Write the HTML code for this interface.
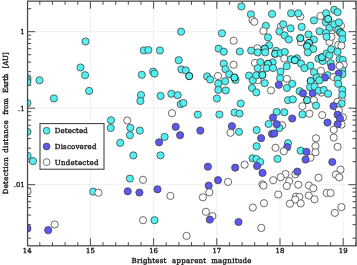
<!DOCTYPE html>
<html><head><meta charset="utf-8"><title>Detection distance vs brightest apparent magnitude</title>
<style>
html,body{margin:0;padding:0;background:#fff}
svg text{font-family:"DejaVu Serif","Liberation Serif",serif;fill:#222;stroke:#222;stroke-width:0.38px}
.t{font-size:7.0px}
.n{font-size:6.9px}
</style></head><body>
<svg width="357" height="265" viewBox="0 0 357 265" style="display:block">
<rect width="357" height="265" fill="#fff"/>
<g stroke="#ededed" stroke-width="0.9" fill="none"><line x1="90.4" y1="1.15" x2="90.4" y2="245.8"/><line x1="153.6" y1="1.15" x2="153.6" y2="245.8"/><line x1="216.8" y1="1.15" x2="216.8" y2="245.8"/><line x1="280.0" y1="1.15" x2="280.0" y2="245.8"/><line x1="343.2" y1="1.15" x2="343.2" y2="245.8"/><line x1="27.55" y1="31.7" x2="356.1" y2="31.7"/><line x1="27.55" y1="108.2" x2="356.1" y2="108.2"/><line x1="27.55" y1="184.7" x2="356.1" y2="184.7"/></g>
<g stroke="#484848" stroke-width="1" fill="none"><line x1="39.8" y1="245.8" x2="39.8" y2="242.20000000000002"/><line x1="39.8" y1="1.15" x2="39.8" y2="4.75"/><line x1="52.5" y1="245.8" x2="52.5" y2="242.20000000000002"/><line x1="52.5" y1="1.15" x2="52.5" y2="4.75"/><line x1="65.1" y1="245.8" x2="65.1" y2="242.20000000000002"/><line x1="65.1" y1="1.15" x2="65.1" y2="4.75"/><line x1="77.8" y1="245.8" x2="77.8" y2="242.20000000000002"/><line x1="77.8" y1="1.15" x2="77.8" y2="4.75"/><line x1="90.4" y1="245.8" x2="90.4" y2="238.20000000000002"/><line x1="90.4" y1="1.15" x2="90.4" y2="8.75"/><line x1="103.0" y1="245.8" x2="103.0" y2="242.20000000000002"/><line x1="103.0" y1="1.15" x2="103.0" y2="4.75"/><line x1="115.7" y1="245.8" x2="115.7" y2="242.20000000000002"/><line x1="115.7" y1="1.15" x2="115.7" y2="4.75"/><line x1="128.3" y1="245.8" x2="128.3" y2="242.20000000000002"/><line x1="128.3" y1="1.15" x2="128.3" y2="4.75"/><line x1="141.0" y1="245.8" x2="141.0" y2="242.20000000000002"/><line x1="141.0" y1="1.15" x2="141.0" y2="4.75"/><line x1="153.6" y1="245.8" x2="153.6" y2="238.20000000000002"/><line x1="153.6" y1="1.15" x2="153.6" y2="8.75"/><line x1="166.2" y1="245.8" x2="166.2" y2="242.20000000000002"/><line x1="166.2" y1="1.15" x2="166.2" y2="4.75"/><line x1="178.9" y1="245.8" x2="178.9" y2="242.20000000000002"/><line x1="178.9" y1="1.15" x2="178.9" y2="4.75"/><line x1="191.5" y1="245.8" x2="191.5" y2="242.20000000000002"/><line x1="191.5" y1="1.15" x2="191.5" y2="4.75"/><line x1="204.2" y1="245.8" x2="204.2" y2="242.20000000000002"/><line x1="204.2" y1="1.15" x2="204.2" y2="4.75"/><line x1="216.8" y1="245.8" x2="216.8" y2="238.20000000000002"/><line x1="216.8" y1="1.15" x2="216.8" y2="8.75"/><line x1="229.4" y1="245.8" x2="229.4" y2="242.20000000000002"/><line x1="229.4" y1="1.15" x2="229.4" y2="4.75"/><line x1="242.1" y1="245.8" x2="242.1" y2="242.20000000000002"/><line x1="242.1" y1="1.15" x2="242.1" y2="4.75"/><line x1="254.7" y1="245.8" x2="254.7" y2="242.20000000000002"/><line x1="254.7" y1="1.15" x2="254.7" y2="4.75"/><line x1="267.4" y1="245.8" x2="267.4" y2="242.20000000000002"/><line x1="267.4" y1="1.15" x2="267.4" y2="4.75"/><line x1="280.0" y1="245.8" x2="280.0" y2="238.20000000000002"/><line x1="280.0" y1="1.15" x2="280.0" y2="8.75"/><line x1="292.6" y1="245.8" x2="292.6" y2="242.20000000000002"/><line x1="292.6" y1="1.15" x2="292.6" y2="4.75"/><line x1="305.3" y1="245.8" x2="305.3" y2="242.20000000000002"/><line x1="305.3" y1="1.15" x2="305.3" y2="4.75"/><line x1="317.9" y1="245.8" x2="317.9" y2="242.20000000000002"/><line x1="317.9" y1="1.15" x2="317.9" y2="4.75"/><line x1="330.6" y1="245.8" x2="330.6" y2="242.20000000000002"/><line x1="330.6" y1="1.15" x2="330.6" y2="4.75"/><line x1="343.2" y1="245.8" x2="343.2" y2="238.20000000000002"/><line x1="343.2" y1="1.15" x2="343.2" y2="8.75"/><line x1="355.8" y1="245.8" x2="355.8" y2="242.20000000000002"/><line x1="355.8" y1="1.15" x2="355.8" y2="4.75"/><line x1="27.55" y1="238.2" x2="31.150000000000002" y2="238.2"/><line x1="356.1" y1="238.2" x2="352.5" y2="238.2"/><line x1="27.55" y1="224.7" x2="31.150000000000002" y2="224.7"/><line x1="356.1" y1="224.7" x2="352.5" y2="224.7"/><line x1="27.55" y1="215.1" x2="31.150000000000002" y2="215.1"/><line x1="356.1" y1="215.1" x2="352.5" y2="215.1"/><line x1="27.55" y1="207.7" x2="31.150000000000002" y2="207.7"/><line x1="356.1" y1="207.7" x2="352.5" y2="207.7"/><line x1="27.55" y1="201.7" x2="31.150000000000002" y2="201.7"/><line x1="356.1" y1="201.7" x2="352.5" y2="201.7"/><line x1="27.55" y1="196.5" x2="31.150000000000002" y2="196.5"/><line x1="356.1" y1="196.5" x2="352.5" y2="196.5"/><line x1="27.55" y1="192.1" x2="31.150000000000002" y2="192.1"/><line x1="356.1" y1="192.1" x2="352.5" y2="192.1"/><line x1="27.55" y1="188.2" x2="31.150000000000002" y2="188.2"/><line x1="356.1" y1="188.2" x2="352.5" y2="188.2"/><line x1="27.55" y1="184.7" x2="35.15" y2="184.7"/><line x1="356.1" y1="184.7" x2="348.5" y2="184.7"/><line x1="27.55" y1="161.7" x2="31.150000000000002" y2="161.7"/><line x1="356.1" y1="161.7" x2="352.5" y2="161.7"/><line x1="27.55" y1="148.2" x2="31.150000000000002" y2="148.2"/><line x1="356.1" y1="148.2" x2="352.5" y2="148.2"/><line x1="27.55" y1="138.6" x2="31.150000000000002" y2="138.6"/><line x1="356.1" y1="138.6" x2="352.5" y2="138.6"/><line x1="27.55" y1="131.2" x2="31.150000000000002" y2="131.2"/><line x1="356.1" y1="131.2" x2="352.5" y2="131.2"/><line x1="27.55" y1="125.2" x2="31.150000000000002" y2="125.2"/><line x1="356.1" y1="125.2" x2="352.5" y2="125.2"/><line x1="27.55" y1="120.0" x2="31.150000000000002" y2="120.0"/><line x1="356.1" y1="120.0" x2="352.5" y2="120.0"/><line x1="27.55" y1="115.6" x2="31.150000000000002" y2="115.6"/><line x1="356.1" y1="115.6" x2="352.5" y2="115.6"/><line x1="27.55" y1="111.7" x2="31.150000000000002" y2="111.7"/><line x1="356.1" y1="111.7" x2="352.5" y2="111.7"/><line x1="27.55" y1="108.2" x2="35.15" y2="108.2"/><line x1="356.1" y1="108.2" x2="348.5" y2="108.2"/><line x1="27.55" y1="85.2" x2="31.150000000000002" y2="85.2"/><line x1="356.1" y1="85.2" x2="352.5" y2="85.2"/><line x1="27.55" y1="71.7" x2="31.150000000000002" y2="71.7"/><line x1="356.1" y1="71.7" x2="352.5" y2="71.7"/><line x1="27.55" y1="62.1" x2="31.150000000000002" y2="62.1"/><line x1="356.1" y1="62.1" x2="352.5" y2="62.1"/><line x1="27.55" y1="54.7" x2="31.150000000000002" y2="54.7"/><line x1="356.1" y1="54.7" x2="352.5" y2="54.7"/><line x1="27.55" y1="48.7" x2="31.150000000000002" y2="48.7"/><line x1="356.1" y1="48.7" x2="352.5" y2="48.7"/><line x1="27.55" y1="43.5" x2="31.150000000000002" y2="43.5"/><line x1="356.1" y1="43.5" x2="352.5" y2="43.5"/><line x1="27.55" y1="39.1" x2="31.150000000000002" y2="39.1"/><line x1="356.1" y1="39.1" x2="352.5" y2="39.1"/><line x1="27.55" y1="35.2" x2="31.150000000000002" y2="35.2"/><line x1="356.1" y1="35.2" x2="352.5" y2="35.2"/><line x1="27.55" y1="31.7" x2="35.15" y2="31.7"/><line x1="356.1" y1="31.7" x2="348.5" y2="31.7"/><line x1="27.55" y1="8.7" x2="31.150000000000002" y2="8.7"/><line x1="356.1" y1="8.7" x2="352.5" y2="8.7"/></g>
<defs><clipPath id="cp"><rect x="27.55" y="1.15" width="328.55" height="244.65"/></clipPath></defs>
<g clip-path="url(#cp)"><circle cx="280.8" cy="26.5" r="3.6" fill="#ffffff" stroke="#414141" stroke-width="0.78"/><circle cx="300.3" cy="16.6" r="3.6" fill="#ffffff" stroke="#414141" stroke-width="0.78"/><circle cx="341.0" cy="25.8" r="3.6" fill="#ffffff" stroke="#414141" stroke-width="0.78"/><circle cx="330.8" cy="32.6" r="3.6" fill="#ffffff" stroke="#414141" stroke-width="0.78"/><circle cx="257.4" cy="48.3" r="3.6" fill="#ffffff" stroke="#414141" stroke-width="0.78"/><circle cx="255.0" cy="63.0" r="3.6" fill="#ffffff" stroke="#414141" stroke-width="0.78"/><circle cx="257.7" cy="80.2" r="3.6" fill="#ffffff" stroke="#414141" stroke-width="0.78"/><circle cx="282.2" cy="125.3" r="3.6" fill="#ffffff" stroke="#414141" stroke-width="0.78"/><circle cx="301.0" cy="42.2" r="3.6" fill="#ffffff" stroke="#414141" stroke-width="0.78"/><circle cx="329.5" cy="41.9" r="3.6" fill="#ffffff" stroke="#414141" stroke-width="0.78"/><circle cx="331.4" cy="36.8" r="3.6" fill="#ffffff" stroke="#414141" stroke-width="0.78"/><circle cx="321.4" cy="92.6" r="3.6" fill="#ffffff" stroke="#414141" stroke-width="0.78"/><circle cx="341.6" cy="99.4" r="3.6" fill="#ffffff" stroke="#414141" stroke-width="0.78"/><circle cx="337.6" cy="101.8" r="3.6" fill="#ffffff" stroke="#414141" stroke-width="0.78"/><circle cx="343.0" cy="117.4" r="3.6" fill="#ffffff" stroke="#414141" stroke-width="0.78"/><circle cx="341.6" cy="124.6" r="3.6" fill="#ffffff" stroke="#414141" stroke-width="0.78"/><circle cx="295.3" cy="174.3" r="3.6" fill="#ffffff" stroke="#414141" stroke-width="0.78"/><circle cx="85.5" cy="41.5" r="3.6" fill="#52f0f0" stroke="#414141" stroke-width="0.78"/><circle cx="143.8" cy="50.4" r="3.6" fill="#52f0f0" stroke="#414141" stroke-width="0.78"/><circle cx="148.4" cy="50.0" r="3.6" fill="#52f0f0" stroke="#414141" stroke-width="0.78"/><circle cx="159.9" cy="50.4" r="3.6" fill="#52f0f0" stroke="#414141" stroke-width="0.78"/><circle cx="181.1" cy="31.7" r="3.6" fill="#52f0f0" stroke="#414141" stroke-width="0.78"/><circle cx="221.9" cy="33.3" r="3.6" fill="#52f0f0" stroke="#414141" stroke-width="0.78"/><circle cx="233.6" cy="40.7" r="3.6" fill="#ffffff" stroke="#414141" stroke-width="0.78"/><circle cx="218.6" cy="48.6" r="3.6" fill="#52f0f0" stroke="#414141" stroke-width="0.78"/><circle cx="223.8" cy="51.7" r="3.6" fill="#52f0f0" stroke="#414141" stroke-width="0.78"/><circle cx="239.8" cy="51.5" r="3.6" fill="#52f0f0" stroke="#414141" stroke-width="0.78"/><circle cx="241.4" cy="6.5" r="3.6" fill="#52f0f0" stroke="#414141" stroke-width="0.78"/><circle cx="250.9" cy="14.3" r="3.6" fill="#52f0f0" stroke="#414141" stroke-width="0.78"/><circle cx="252.5" cy="20.1" r="3.6" fill="#ffffff" stroke="#414141" stroke-width="0.78"/><circle cx="254.3" cy="21.8" r="3.6" fill="#ffffff" stroke="#414141" stroke-width="0.78"/><circle cx="272.0" cy="13.9" r="3.6" fill="#52f0f0" stroke="#414141" stroke-width="0.78"/><circle cx="265.8" cy="25.8" r="3.6" fill="#52f0f0" stroke="#414141" stroke-width="0.78"/><circle cx="263.4" cy="31.0" r="3.6" fill="#ffffff" stroke="#414141" stroke-width="0.78"/><circle cx="283.2" cy="24.2" r="3.6" fill="#52f0f0" stroke="#414141" stroke-width="0.78"/><circle cx="279.4" cy="31.5" r="3.6" fill="#52f0f0" stroke="#414141" stroke-width="0.78"/><circle cx="284.6" cy="35.4" r="3.6" fill="#52f0f0" stroke="#414141" stroke-width="0.78"/><circle cx="268.0" cy="37.4" r="3.6" fill="#52f0f0" stroke="#414141" stroke-width="0.78"/><circle cx="291.1" cy="13.3" r="3.6" fill="#52f0f0" stroke="#414141" stroke-width="0.78"/><circle cx="298.3" cy="13.3" r="3.6" fill="#52f0f0" stroke="#414141" stroke-width="0.78"/><circle cx="313.9" cy="20.4" r="3.6" fill="#52f0f0" stroke="#414141" stroke-width="0.78"/><circle cx="320.5" cy="16.0" r="3.6" fill="#ffffff" stroke="#414141" stroke-width="0.78"/><circle cx="326.1" cy="13.3" r="3.6" fill="#52f0f0" stroke="#414141" stroke-width="0.78"/><circle cx="325.7" cy="22.2" r="3.6" fill="#52f0f0" stroke="#414141" stroke-width="0.78"/><circle cx="328.1" cy="19.0" r="3.6" fill="#52f0f0" stroke="#1a1a1a" stroke-width="0.95"/><circle cx="290.5" cy="28.3" r="3.6" fill="#52f0f0" stroke="#414141" stroke-width="0.78"/><circle cx="301.7" cy="26.9" r="3.6" fill="#52f0f0" stroke="#414141" stroke-width="0.78"/><circle cx="319.6" cy="31.3" r="3.6" fill="#52f0f0" stroke="#414141" stroke-width="0.78"/><circle cx="329.5" cy="27.9" r="3.6" fill="#52f0f0" stroke="#414141" stroke-width="0.78"/><circle cx="308.5" cy="34.4" r="3.6" fill="#52f0f0" stroke="#414141" stroke-width="0.78"/><circle cx="326.1" cy="33.0" r="3.6" fill="#52f0f0" stroke="#414141" stroke-width="0.78"/><circle cx="334.2" cy="9.8" r="3.6" fill="#52f0f0" stroke="#414141" stroke-width="0.78"/><circle cx="337.6" cy="12.2" r="3.6" fill="#52f0f0" stroke="#414141" stroke-width="0.78"/><circle cx="334.2" cy="24.2" r="3.6" fill="#52f0f0" stroke="#414141" stroke-width="0.78"/><circle cx="338.9" cy="22.4" r="3.6" fill="#52f0f0" stroke="#414141" stroke-width="0.78"/><circle cx="338.2" cy="29.9" r="3.6" fill="#52f0f0" stroke="#414141" stroke-width="0.78"/><circle cx="340.3" cy="32.4" r="3.6" fill="#52f0f0" stroke="#1a1a1a" stroke-width="0.95"/><circle cx="342.3" cy="34.0" r="3.6" fill="#52f0f0" stroke="#414141" stroke-width="0.78"/><circle cx="80.5" cy="67.5" r="3.6" fill="#52f0f0" stroke="#414141" stroke-width="0.78"/><circle cx="85.1" cy="75.2" r="3.6" fill="#52f0f0" stroke="#414141" stroke-width="0.78"/><circle cx="89.1" cy="90.9" r="3.6" fill="#52f0f0" stroke="#414141" stroke-width="0.78"/><circle cx="39.5" cy="80.3" r="3.6" fill="#52f0f0" stroke="#414141" stroke-width="0.78"/><circle cx="53.9" cy="98.4" r="3.6" fill="#52f0f0" stroke="#414141" stroke-width="0.78"/><circle cx="27.4" cy="78.0" r="3.6" fill="#52f0f0" stroke="#414141" stroke-width="0.78"/><circle cx="27.4" cy="80.0" r="3.6" fill="#52f0f0" stroke="#414141" stroke-width="0.78"/><circle cx="27.4" cy="82.3" r="3.6" fill="#52f0f0" stroke="#414141" stroke-width="0.78"/><circle cx="27.4" cy="103.0" r="3.6" fill="#52f0f0" stroke="#414141" stroke-width="0.78"/><circle cx="141.8" cy="74.8" r="3.6" fill="#52f0f0" stroke="#414141" stroke-width="0.78"/><circle cx="153.1" cy="71.6" r="3.6" fill="#52f0f0" stroke="#414141" stroke-width="0.78"/><circle cx="154.5" cy="73.6" r="3.6" fill="#52f0f0" stroke="#414141" stroke-width="0.78"/><circle cx="141.0" cy="95.0" r="3.6" fill="#52f0f0" stroke="#414141" stroke-width="0.78"/><circle cx="140.4" cy="101.0" r="3.6" fill="#52f0f0" stroke="#414141" stroke-width="0.78"/><circle cx="160.6" cy="95.9" r="3.6" fill="#52f0f0" stroke="#414141" stroke-width="0.78"/><circle cx="178.7" cy="60.2" r="3.6" fill="#52f0f0" stroke="#414141" stroke-width="0.78"/><circle cx="181.4" cy="69.4" r="3.6" fill="#52f0f0" stroke="#414141" stroke-width="0.78"/><circle cx="185.8" cy="70.4" r="3.6" fill="#52f0f0" stroke="#414141" stroke-width="0.78"/><circle cx="189.2" cy="76.1" r="3.6" fill="#52f0f0" stroke="#1a1a1a" stroke-width="0.95"/><circle cx="207.1" cy="76.4" r="3.6" fill="#52f0f0" stroke="#414141" stroke-width="0.78"/><circle cx="210.1" cy="79.5" r="3.6" fill="#52f0f0" stroke="#414141" stroke-width="0.78"/><circle cx="251.2" cy="50.6" r="3.6" fill="#52f0f0" stroke="#414141" stroke-width="0.78"/><circle cx="223.7" cy="63.7" r="3.6" fill="#52f0f0" stroke="#414141" stroke-width="0.78"/><circle cx="225.5" cy="69.2" r="3.6" fill="#52f0f0" stroke="#414141" stroke-width="0.78"/><circle cx="233.6" cy="64.7" r="3.6" fill="#ffffff" stroke="#414141" stroke-width="0.78"/><circle cx="229.2" cy="74.2" r="3.6" fill="#52f0f0" stroke="#414141" stroke-width="0.78"/><circle cx="235.5" cy="79.9" r="3.6" fill="#52f0f0" stroke="#414141" stroke-width="0.78"/><circle cx="234.4" cy="77.5" r="3.6" fill="#52f0f0" stroke="#1a1a1a" stroke-width="0.95"/><circle cx="218.0" cy="76.0" r="3.6" fill="#ffffff" stroke="#414141" stroke-width="0.78"/><circle cx="249.0" cy="75.6" r="3.6" fill="#52f0f0" stroke="#414141" stroke-width="0.78"/><circle cx="225.1" cy="81.2" r="3.6" fill="#52f0f0" stroke="#414141" stroke-width="0.78"/><circle cx="218.3" cy="83.6" r="3.6" fill="#52f0f0" stroke="#414141" stroke-width="0.78"/><circle cx="218.3" cy="89.9" r="3.6" fill="#52f0f0" stroke="#414141" stroke-width="0.78"/><circle cx="225.8" cy="90.4" r="3.6" fill="#52f0f0" stroke="#414141" stroke-width="0.78"/><circle cx="216.9" cy="98.5" r="3.6" fill="#52f0f0" stroke="#414141" stroke-width="0.78"/><circle cx="240.7" cy="103.5" r="3.6" fill="#52f0f0" stroke="#414141" stroke-width="0.78"/><circle cx="252.8" cy="80.4" r="3.6" fill="#52f0f0" stroke="#414141" stroke-width="0.78"/><circle cx="252.0" cy="88.0" r="3.6" fill="#52f0f0" stroke="#414141" stroke-width="0.78"/><circle cx="171.3" cy="93.8" r="3.6" fill="#52f0f0" stroke="#414141" stroke-width="0.78"/><circle cx="177.7" cy="95.2" r="3.6" fill="#52f0f0" stroke="#414141" stroke-width="0.78"/><circle cx="180.7" cy="104.1" r="3.6" fill="#52f0f0" stroke="#414141" stroke-width="0.78"/><circle cx="183.4" cy="103.0" r="3.6" fill="#52f0f0" stroke="#414141" stroke-width="0.78"/><circle cx="172.0" cy="113.2" r="3.6" fill="#ffffff" stroke="#414141" stroke-width="0.78"/><circle cx="197.8" cy="114.6" r="3.6" fill="#52f0f0" stroke="#414141" stroke-width="0.78"/><circle cx="27.4" cy="131.8" r="3.6" fill="#52f0f0" stroke="#414141" stroke-width="0.78"/><circle cx="27.6" cy="155.8" r="3.6" fill="#52f0f0" stroke="#414141" stroke-width="0.78"/><circle cx="33.0" cy="161.1" r="3.6" fill="#52f0f0" stroke="#414141" stroke-width="0.78"/><circle cx="111.0" cy="120.3" r="3.6" fill="#52f0f0" stroke="#414141" stroke-width="0.78"/><circle cx="110.7" cy="128.0" r="3.6" fill="#52f0f0" stroke="#414141" stroke-width="0.78"/><circle cx="127.3" cy="120.5" r="3.6" fill="#ffffff" stroke="#414141" stroke-width="0.78"/><circle cx="130.3" cy="127.8" r="3.6" fill="#52f0f0" stroke="#414141" stroke-width="0.78"/><circle cx="129.9" cy="135.2" r="3.6" fill="#52f0f0" stroke="#414141" stroke-width="0.78"/><circle cx="139.8" cy="130.6" r="3.6" fill="#52f0f0" stroke="#414141" stroke-width="0.78"/><circle cx="120.2" cy="142.9" r="3.6" fill="#52f0f0" stroke="#414141" stroke-width="0.78"/><circle cx="133.3" cy="155.4" r="3.6" fill="#52f0f0" stroke="#414141" stroke-width="0.78"/><circle cx="164.6" cy="136.9" r="3.6" fill="#52f0f0" stroke="#414141" stroke-width="0.78"/><circle cx="159.1" cy="142.3" r="3.6" fill="#5a5af2" stroke="#414141" stroke-width="0.78"/><circle cx="160.5" cy="155.4" r="3.6" fill="#52f0f0" stroke="#414141" stroke-width="0.78"/><circle cx="219.4" cy="114.5" r="3.6" fill="#52f0f0" stroke="#414141" stroke-width="0.78"/><circle cx="234.6" cy="112.5" r="3.6" fill="#52f0f0" stroke="#414141" stroke-width="0.78"/><circle cx="239.5" cy="113.6" r="3.6" fill="#52f0f0" stroke="#414141" stroke-width="0.78"/><circle cx="175.7" cy="126.8" r="3.6" fill="#5a5af2" stroke="#414141" stroke-width="0.78"/><circle cx="180.1" cy="135.2" r="3.6" fill="#5a5af2" stroke="#414141" stroke-width="0.78"/><circle cx="200.3" cy="130.6" r="3.6" fill="#5a5af2" stroke="#414141" stroke-width="0.78"/><circle cx="231.9" cy="126.2" r="3.6" fill="#5a5af2" stroke="#414141" stroke-width="0.78"/><circle cx="230.5" cy="132.8" r="3.6" fill="#ffffff" stroke="#414141" stroke-width="0.78"/><circle cx="239.0" cy="131.8" r="3.6" fill="#52f0f0" stroke="#414141" stroke-width="0.78"/><circle cx="269.2" cy="45.3" r="3.6" fill="#52f0f0" stroke="#414141" stroke-width="0.78"/><circle cx="264.7" cy="48.6" r="3.6" fill="#52f0f0" stroke="#1a1a1a" stroke-width="0.95"/><circle cx="265.2" cy="52.4" r="3.6" fill="#52f0f0" stroke="#414141" stroke-width="0.78"/><circle cx="257.7" cy="52.4" r="3.6" fill="#52f0f0" stroke="#414141" stroke-width="0.78"/><circle cx="276.0" cy="50.8" r="3.6" fill="#52f0f0" stroke="#414141" stroke-width="0.78"/><circle cx="275.1" cy="53.8" r="3.6" fill="#52f0f0" stroke="#1a1a1a" stroke-width="0.95"/><circle cx="280.8" cy="53.1" r="3.6" fill="#52f0f0" stroke="#414141" stroke-width="0.78"/><circle cx="284.8" cy="52.0" r="3.6" fill="#52f0f0" stroke="#414141" stroke-width="0.78"/><circle cx="284.3" cy="58.5" r="3.6" fill="#ffffff" stroke="#414141" stroke-width="0.78"/><circle cx="286.7" cy="66.2" r="3.6" fill="#52f0f0" stroke="#414141" stroke-width="0.78"/><circle cx="260.4" cy="62.2" r="3.6" fill="#52f0f0" stroke="#414141" stroke-width="0.78"/><circle cx="272.6" cy="62.4" r="3.6" fill="#52f0f0" stroke="#414141" stroke-width="0.78"/><circle cx="267.9" cy="63.8" r="3.6" fill="#52f0f0" stroke="#1a1a1a" stroke-width="0.95"/><circle cx="288.8" cy="39.5" r="3.6" fill="#52f0f0" stroke="#414141" stroke-width="0.78"/><circle cx="257.7" cy="68.2" r="3.6" fill="#52f0f0" stroke="#414141" stroke-width="0.78"/><circle cx="266.5" cy="68.2" r="3.6" fill="#52f0f0" stroke="#414141" stroke-width="0.78"/><circle cx="273.0" cy="68.0" r="3.6" fill="#52f0f0" stroke="#414141" stroke-width="0.78"/><circle cx="256.3" cy="75.4" r="3.6" fill="#52f0f0" stroke="#414141" stroke-width="0.78"/><circle cx="262.4" cy="75.0" r="3.6" fill="#52f0f0" stroke="#1a1a1a" stroke-width="0.95"/><circle cx="264.7" cy="83.2" r="3.6" fill="#52f0f0" stroke="#414141" stroke-width="0.78"/><circle cx="280.5" cy="71.6" r="3.6" fill="#52f0f0" stroke="#414141" stroke-width="0.78"/><circle cx="280.1" cy="78.2" r="3.6" fill="#52f0f0" stroke="#414141" stroke-width="0.78"/><circle cx="278.8" cy="84.8" r="3.6" fill="#5a5af2" stroke="#414141" stroke-width="0.78"/><circle cx="286.9" cy="78.8" r="3.6" fill="#ffffff" stroke="#414141" stroke-width="0.78"/><circle cx="271.0" cy="90.4" r="3.6" fill="#ffffff" stroke="#414141" stroke-width="0.78"/><circle cx="286.9" cy="88.0" r="3.6" fill="#52f0f0" stroke="#414141" stroke-width="0.78"/><circle cx="256.3" cy="92.4" r="3.6" fill="#52f0f0" stroke="#414141" stroke-width="0.78"/><circle cx="288.0" cy="100.2" r="3.6" fill="#52f0f0" stroke="#414141" stroke-width="0.78"/><circle cx="276.7" cy="111.9" r="3.6" fill="#52f0f0" stroke="#414141" stroke-width="0.78"/><circle cx="284.3" cy="112.3" r="3.6" fill="#52f0f0" stroke="#414141" stroke-width="0.78"/><circle cx="273.0" cy="117.5" r="3.6" fill="#5a5af2" stroke="#414141" stroke-width="0.78"/><circle cx="268.6" cy="124.0" r="3.6" fill="#52f0f0" stroke="#414141" stroke-width="0.78"/><circle cx="279.4" cy="128.0" r="3.6" fill="#52f0f0" stroke="#414141" stroke-width="0.78"/><circle cx="276.7" cy="124.2" r="3.6" fill="#5a5af2" stroke="#414141" stroke-width="0.78"/><circle cx="256.6" cy="130.1" r="3.6" fill="#52f0f0" stroke="#414141" stroke-width="0.78"/><circle cx="272.0" cy="133.8" r="3.6" fill="#5a5af2" stroke="#414141" stroke-width="0.78"/><circle cx="274.3" cy="133.5" r="3.6" fill="#5a5af2" stroke="#414141" stroke-width="0.78"/><circle cx="261.1" cy="138.2" r="3.6" fill="#5a5af2" stroke="#414141" stroke-width="0.78"/><circle cx="256.6" cy="146.3" r="3.6" fill="#52f0f0" stroke="#414141" stroke-width="0.78"/><circle cx="275.5" cy="147.8" r="3.6" fill="#ffffff" stroke="#414141" stroke-width="0.78"/><circle cx="288.0" cy="143.2" r="3.6" fill="#52f0f0" stroke="#414141" stroke-width="0.78"/><circle cx="287.2" cy="147.2" r="3.6" fill="#5a5af2" stroke="#414141" stroke-width="0.78"/><circle cx="300.3" cy="38.2" r="3.6" fill="#52f0f0" stroke="#1a1a1a" stroke-width="0.95"/><circle cx="313.9" cy="39.5" r="3.6" fill="#52f0f0" stroke="#414141" stroke-width="0.78"/><circle cx="309.0" cy="42.9" r="3.6" fill="#52f0f0" stroke="#1a1a1a" stroke-width="0.95"/><circle cx="307.1" cy="46.3" r="3.6" fill="#52f0f0" stroke="#1a1a1a" stroke-width="0.95"/><circle cx="313.2" cy="49.0" r="3.6" fill="#52f0f0" stroke="#414141" stroke-width="0.78"/><circle cx="307.8" cy="52.4" r="3.6" fill="#52f0f0" stroke="#414141" stroke-width="0.78"/><circle cx="326.5" cy="36.8" r="3.6" fill="#52f0f0" stroke="#414141" stroke-width="0.78"/><circle cx="290.8" cy="59.2" r="3.6" fill="#52f0f0" stroke="#414141" stroke-width="0.78"/><circle cx="296.9" cy="58.3" r="3.6" fill="#52f0f0" stroke="#414141" stroke-width="0.78"/><circle cx="294.9" cy="60.2" r="3.6" fill="#52f0f0" stroke="#1a1a1a" stroke-width="0.95"/><circle cx="301.0" cy="63.6" r="3.6" fill="#52f0f0" stroke="#414141" stroke-width="0.78"/><circle cx="318.5" cy="58.6" r="3.6" fill="#52f0f0" stroke="#414141" stroke-width="0.78"/><circle cx="322.7" cy="61.0" r="3.6" fill="#52f0f0" stroke="#414141" stroke-width="0.78"/><circle cx="322.0" cy="57.2" r="3.6" fill="#52f0f0" stroke="#1a1a1a" stroke-width="0.95"/><circle cx="326.8" cy="53.4" r="3.6" fill="#52f0f0" stroke="#414141" stroke-width="0.78"/><circle cx="329.4" cy="55.2" r="3.6" fill="#52f0f0" stroke="#414141" stroke-width="0.78"/><circle cx="331.2" cy="49.3" r="3.6" fill="#52f0f0" stroke="#414141" stroke-width="0.78"/><circle cx="330.6" cy="63.2" r="3.6" fill="#52f0f0" stroke="#414141" stroke-width="0.78"/><circle cx="331.6" cy="66.9" r="3.6" fill="#5a5af2" stroke="#414141" stroke-width="0.78"/><circle cx="310.3" cy="65.6" r="3.6" fill="#52f0f0" stroke="#414141" stroke-width="0.78"/><circle cx="342.3" cy="39.2" r="3.6" fill="#52f0f0" stroke="#414141" stroke-width="0.78"/><circle cx="338.2" cy="45.0" r="3.6" fill="#ffffff" stroke="#414141" stroke-width="0.78"/><circle cx="341.4" cy="45.6" r="3.6" fill="#ffffff" stroke="#414141" stroke-width="0.78"/><circle cx="337.6" cy="51.8" r="3.6" fill="#52f0f0" stroke="#414141" stroke-width="0.78"/><circle cx="339.6" cy="59.2" r="3.6" fill="#52f0f0" stroke="#414141" stroke-width="0.78"/><circle cx="342.7" cy="59.9" r="3.6" fill="#52f0f0" stroke="#414141" stroke-width="0.78"/><circle cx="343.7" cy="64.6" r="3.6" fill="#ffffff" stroke="#414141" stroke-width="0.78"/><circle cx="304.4" cy="68.1" r="3.6" fill="#52f0f0" stroke="#414141" stroke-width="0.78"/><circle cx="313.9" cy="72.2" r="3.6" fill="#52f0f0" stroke="#414141" stroke-width="0.78"/><circle cx="320.9" cy="70.8" r="3.6" fill="#ffffff" stroke="#414141" stroke-width="0.78"/><circle cx="327.7" cy="75.2" r="3.6" fill="#52f0f0" stroke="#414141" stroke-width="0.78"/><circle cx="324.9" cy="77.6" r="3.6" fill="#5a5af2" stroke="#414141" stroke-width="0.78"/><circle cx="316.6" cy="77.6" r="3.6" fill="#52f0f0" stroke="#414141" stroke-width="0.78"/><circle cx="319.3" cy="80.4" r="3.6" fill="#52f0f0" stroke="#414141" stroke-width="0.78"/><circle cx="310.7" cy="81.0" r="3.6" fill="#52f0f0" stroke="#1a1a1a" stroke-width="0.95"/><circle cx="292.2" cy="83.8" r="3.6" fill="#52f0f0" stroke="#414141" stroke-width="0.78"/><circle cx="310.0" cy="87.2" r="3.6" fill="#52f0f0" stroke="#414141" stroke-width="0.78"/><circle cx="314.5" cy="86.5" r="3.6" fill="#52f0f0" stroke="#414141" stroke-width="0.78"/><circle cx="299.6" cy="91.2" r="3.6" fill="#52f0f0" stroke="#414141" stroke-width="0.78"/><circle cx="303.0" cy="93.3" r="3.6" fill="#5a5af2" stroke="#414141" stroke-width="0.78"/><circle cx="312.7" cy="93.3" r="3.6" fill="#5a5af2" stroke="#414141" stroke-width="0.78"/><circle cx="318.9" cy="90.6" r="3.6" fill="#52f0f0" stroke="#414141" stroke-width="0.78"/><circle cx="323.7" cy="89.9" r="3.6" fill="#52f0f0" stroke="#414141" stroke-width="0.78"/><circle cx="328.1" cy="93.8" r="3.6" fill="#52f0f0" stroke="#414141" stroke-width="0.78"/><circle cx="342.3" cy="70.2" r="3.6" fill="#52f0f0" stroke="#414141" stroke-width="0.78"/><circle cx="342.3" cy="74.2" r="3.6" fill="#52f0f0" stroke="#414141" stroke-width="0.78"/><circle cx="338.6" cy="73.6" r="3.6" fill="#5a5af2" stroke="#414141" stroke-width="0.78"/><circle cx="339.6" cy="65.8" r="3.6" fill="#ffffff" stroke="#414141" stroke-width="0.78"/><circle cx="333.5" cy="77.0" r="3.6" fill="#ffffff" stroke="#414141" stroke-width="0.78"/><circle cx="337.6" cy="79.0" r="3.6" fill="#52f0f0" stroke="#414141" stroke-width="0.78"/><circle cx="338.2" cy="83.8" r="3.6" fill="#52f0f0" stroke="#414141" stroke-width="0.78"/><circle cx="342.3" cy="89.9" r="3.6" fill="#52f0f0" stroke="#414141" stroke-width="0.78"/><circle cx="342.3" cy="94.8" r="3.6" fill="#52f0f0" stroke="#414141" stroke-width="0.78"/><circle cx="292.8" cy="99.4" r="3.6" fill="#52f0f0" stroke="#414141" stroke-width="0.78"/><circle cx="307.1" cy="100.1" r="3.6" fill="#52f0f0" stroke="#1a1a1a" stroke-width="0.95"/><circle cx="313.9" cy="100.1" r="3.6" fill="#ffffff" stroke="#414141" stroke-width="0.78"/><circle cx="316.0" cy="105.6" r="3.6" fill="#52f0f0" stroke="#414141" stroke-width="0.78"/><circle cx="302.4" cy="106.2" r="3.6" fill="#ffffff" stroke="#414141" stroke-width="0.78"/><circle cx="302.4" cy="114.4" r="3.6" fill="#52f0f0" stroke="#414141" stroke-width="0.78"/><circle cx="309.4" cy="113.7" r="3.6" fill="#ffffff" stroke="#414141" stroke-width="0.78"/><circle cx="322.2" cy="115.1" r="3.6" fill="#ffffff" stroke="#414141" stroke-width="0.78"/><circle cx="292.2" cy="118.5" r="3.6" fill="#5a5af2" stroke="#414141" stroke-width="0.78"/><circle cx="327.5" cy="122.6" r="3.6" fill="#5a5af2" stroke="#414141" stroke-width="0.78"/><circle cx="341.6" cy="103.5" r="3.6" fill="#52f0f0" stroke="#414141" stroke-width="0.78"/><circle cx="336.9" cy="106.9" r="3.6" fill="#52f0f0" stroke="#414141" stroke-width="0.78"/><circle cx="333.5" cy="106.0" r="3.6" fill="#5a5af2" stroke="#414141" stroke-width="0.78"/><circle cx="338.9" cy="110.3" r="3.6" fill="#ffffff" stroke="#414141" stroke-width="0.78"/><circle cx="337.6" cy="114.7" r="3.6" fill="#5a5af2" stroke="#414141" stroke-width="0.78"/><circle cx="340.0" cy="118.5" r="3.6" fill="#5a5af2" stroke="#414141" stroke-width="0.78"/><circle cx="337.6" cy="124.2" r="3.6" fill="#5a5af2" stroke="#414141" stroke-width="0.78"/><circle cx="316.0" cy="138.3" r="3.6" fill="#ffffff" stroke="#414141" stroke-width="0.78"/><circle cx="315.5" cy="146.1" r="3.6" fill="#ffffff" stroke="#414141" stroke-width="0.78"/><circle cx="315.5" cy="152.3" r="3.6" fill="#ffffff" stroke="#414141" stroke-width="0.78"/><circle cx="310.5" cy="157.7" r="3.6" fill="#ffffff" stroke="#414141" stroke-width="0.78"/><circle cx="300.6" cy="150.7" r="3.6" fill="#52f0f0" stroke="#414141" stroke-width="0.78"/><circle cx="306.4" cy="151.8" r="3.6" fill="#5a5af2" stroke="#414141" stroke-width="0.78"/><circle cx="305.6" cy="159.6" r="3.6" fill="#5a5af2" stroke="#414141" stroke-width="0.78"/><circle cx="283.8" cy="151.3" r="3.6" fill="#ffffff" stroke="#414141" stroke-width="0.78"/><circle cx="333.7" cy="129.8" r="3.6" fill="#ffffff" stroke="#414141" stroke-width="0.78"/><circle cx="333.7" cy="137.6" r="3.6" fill="#ffffff" stroke="#414141" stroke-width="0.78"/><circle cx="337.6" cy="146.8" r="3.6" fill="#ffffff" stroke="#414141" stroke-width="0.78"/><circle cx="332.3" cy="162.0" r="3.6" fill="#5a5af2" stroke="#414141" stroke-width="0.78"/><circle cx="93.2" cy="191.7" r="3.6" fill="#52f0f0" stroke="#414141" stroke-width="0.78"/><circle cx="27.5" cy="191.3" r="3.6" fill="#ffffff" stroke="#414141" stroke-width="0.78"/><circle cx="129.9" cy="178.6" r="3.6" fill="#52f0f0" stroke="#414141" stroke-width="0.78"/><circle cx="143.0" cy="179.8" r="3.6" fill="#ffffff" stroke="#414141" stroke-width="0.78"/><circle cx="127.7" cy="191.3" r="3.6" fill="#5a5af2" stroke="#414141" stroke-width="0.78"/><circle cx="139.4" cy="192.5" r="3.6" fill="#5a5af2" stroke="#414141" stroke-width="0.78"/><circle cx="157.5" cy="189.3" r="3.6" fill="#5a5af2" stroke="#414141" stroke-width="0.78"/><circle cx="98.4" cy="192.7" r="3.6" fill="#ffffff" stroke="#414141" stroke-width="0.78"/><circle cx="170.4" cy="195.9" r="3.6" fill="#ffffff" stroke="#414141" stroke-width="0.78"/><circle cx="207.9" cy="166.7" r="3.6" fill="#5a5af2" stroke="#414141" stroke-width="0.78"/><circle cx="235.2" cy="167.7" r="3.6" fill="#5a5af2" stroke="#414141" stroke-width="0.78"/><circle cx="218.0" cy="180.2" r="3.6" fill="#5a5af2" stroke="#414141" stroke-width="0.78"/><circle cx="228.1" cy="181.9" r="3.6" fill="#ffffff" stroke="#414141" stroke-width="0.78"/><circle cx="208.7" cy="185.6" r="3.6" fill="#5a5af2" stroke="#414141" stroke-width="0.78"/><circle cx="209.3" cy="192.3" r="3.6" fill="#ffffff" stroke="#414141" stroke-width="0.78"/><circle cx="202.9" cy="197.3" r="3.6" fill="#ffffff" stroke="#414141" stroke-width="0.78"/><circle cx="205.9" cy="211.8" r="3.6" fill="#ffffff" stroke="#414141" stroke-width="0.78"/><circle cx="277.5" cy="158.9" r="3.6" fill="#52f0f0" stroke="#414141" stroke-width="0.78"/><circle cx="252.6" cy="158.3" r="3.6" fill="#52f0f0" stroke="#414141" stroke-width="0.78"/><circle cx="256.4" cy="159.0" r="3.6" fill="#52f0f0" stroke="#414141" stroke-width="0.78"/><circle cx="260.2" cy="162.0" r="3.6" fill="#52f0f0" stroke="#414141" stroke-width="0.78"/><circle cx="257.1" cy="166.0" r="3.6" fill="#5a5af2" stroke="#414141" stroke-width="0.78"/><circle cx="262.5" cy="172.9" r="3.6" fill="#5a5af2" stroke="#414141" stroke-width="0.78"/><circle cx="244.6" cy="164.7" r="3.6" fill="#ffffff" stroke="#414141" stroke-width="0.78"/><circle cx="297.3" cy="171.6" r="3.6" fill="#5a5af2" stroke="#414141" stroke-width="0.78"/><circle cx="285.5" cy="174.0" r="3.6" fill="#ffffff" stroke="#414141" stroke-width="0.78"/><circle cx="280.6" cy="177.2" r="3.6" fill="#ffffff" stroke="#414141" stroke-width="0.78"/><circle cx="273.2" cy="180.2" r="3.6" fill="#ffffff" stroke="#414141" stroke-width="0.78"/><circle cx="289.2" cy="181.1" r="3.6" fill="#ffffff" stroke="#414141" stroke-width="0.78"/><circle cx="286.8" cy="186.0" r="3.6" fill="#ffffff" stroke="#414141" stroke-width="0.78"/><circle cx="298.3" cy="184.7" r="3.6" fill="#ffffff" stroke="#414141" stroke-width="0.78"/><circle cx="308.9" cy="185.5" r="3.6" fill="#ffffff" stroke="#414141" stroke-width="0.78"/><circle cx="313.3" cy="188.3" r="3.6" fill="#ffffff" stroke="#414141" stroke-width="0.78"/><circle cx="262.4" cy="184.3" r="3.6" fill="#ffffff" stroke="#414141" stroke-width="0.78"/><circle cx="263.5" cy="185.6" r="3.6" fill="#ffffff" stroke="#414141" stroke-width="0.78"/><circle cx="278.2" cy="194.5" r="3.6" fill="#ffffff" stroke="#414141" stroke-width="0.78"/><circle cx="340.5" cy="169.6" r="3.6" fill="#ffffff" stroke="#414141" stroke-width="0.78"/><circle cx="335.9" cy="174.6" r="3.6" fill="#ffffff" stroke="#414141" stroke-width="0.78"/><circle cx="339.2" cy="177.3" r="3.6" fill="#ffffff" stroke="#414141" stroke-width="0.78"/><circle cx="318.5" cy="177.7" r="3.6" fill="#ffffff" stroke="#414141" stroke-width="0.78"/><circle cx="326.7" cy="193.0" r="3.6" fill="#ffffff" stroke="#414141" stroke-width="0.78"/><circle cx="330.6" cy="193.0" r="3.6" fill="#ffffff" stroke="#414141" stroke-width="0.78"/><circle cx="296.0" cy="196.6" r="3.6" fill="#ffffff" stroke="#414141" stroke-width="0.78"/><circle cx="299.4" cy="196.9" r="3.6" fill="#ffffff" stroke="#414141" stroke-width="0.78"/><circle cx="295.3" cy="199.6" r="3.6" fill="#ffffff" stroke="#414141" stroke-width="0.78"/><circle cx="289.9" cy="203.7" r="3.6" fill="#ffffff" stroke="#414141" stroke-width="0.78"/><circle cx="300.7" cy="203.4" r="3.6" fill="#ffffff" stroke="#414141" stroke-width="0.78"/><circle cx="308.8" cy="195.6" r="3.6" fill="#ffffff" stroke="#414141" stroke-width="0.78"/><circle cx="314.5" cy="199.3" r="3.6" fill="#ffffff" stroke="#414141" stroke-width="0.78"/><circle cx="264.0" cy="203.2" r="3.6" fill="#ffffff" stroke="#414141" stroke-width="0.78"/><circle cx="341.4" cy="207.1" r="3.6" fill="#ffffff" stroke="#414141" stroke-width="0.78"/><circle cx="334.8" cy="212.9" r="3.6" fill="#ffffff" stroke="#414141" stroke-width="0.78"/><circle cx="54.7" cy="224.5" r="3.6" fill="#ffffff" stroke="#414141" stroke-width="0.78"/><circle cx="48.2" cy="230.2" r="3.6" fill="#5a5af2" stroke="#414141" stroke-width="0.78"/><circle cx="27.4" cy="228.5" r="3.6" fill="#5a5af2" stroke="#414141" stroke-width="0.78"/><circle cx="143.0" cy="220.2" r="3.6" fill="#ffffff" stroke="#414141" stroke-width="0.78"/><circle cx="154.5" cy="220.2" r="3.6" fill="#52f0f0" stroke="#414141" stroke-width="0.78"/><circle cx="212.4" cy="216.1" r="3.6" fill="#ffffff" stroke="#414141" stroke-width="0.78"/><circle cx="209.8" cy="219.6" r="3.6" fill="#5a5af2" stroke="#414141" stroke-width="0.78"/><circle cx="186.6" cy="235.9" r="3.6" fill="#ffffff" stroke="#414141" stroke-width="0.78"/><circle cx="238.5" cy="222.0" r="3.6" fill="#5a5af2" stroke="#414141" stroke-width="0.78"/><circle cx="252.8" cy="207.5" r="3.6" fill="#ffffff" stroke="#414141" stroke-width="0.78"/><circle cx="261.3" cy="227.9" r="3.6" fill="#ffffff" stroke="#414141" stroke-width="0.78"/></g>
<rect x="27.55" y="1.15" width="328.55" height="244.65" fill="none" stroke="#484848" stroke-width="1.25"/>
<rect x="40" y="123.6" width="64" height="45.6" fill="#fff" stroke="#333" stroke-width="1"/>
<circle cx="46.6" cy="130.7" r="3.4" fill="#52f0f0" stroke="#3a3a3a" stroke-width="0.7"/>
<text x="54.8" y="133.35" textLength="33" lengthAdjust="spacing" class="t">Detected</text>
<circle cx="46.6" cy="146.5" r="3.4" fill="#5a5af2" stroke="#3a3a3a" stroke-width="0.7"/>
<text x="54.8" y="149.15" textLength="41.6" lengthAdjust="spacing" class="t">Discovered</text>
<circle cx="46.6" cy="162.1" r="3.4" fill="#ffffff" stroke="#3a3a3a" stroke-width="0.7"/>
<text x="54.8" y="164.75" textLength="43.6" lengthAdjust="spacing" class="t">Undetected</text>
<text x="27.2" y="253.0" text-anchor="middle" class="n">14</text>
<text x="90.4" y="253.0" text-anchor="middle" class="n">15</text>
<text x="153.6" y="253.0" text-anchor="middle" class="n">16</text>
<text x="216.8" y="253.0" text-anchor="middle" class="n">17</text>
<text x="280.0" y="253.0" text-anchor="middle" class="n">18</text>
<text x="343.2" y="253.0" text-anchor="middle" class="n">19</text>
<text x="24.7" y="34.2" text-anchor="end" class="n">1</text>
<text x="24.7" y="110.7" text-anchor="end" class="n">.1</text>
<text x="24.7" y="187.2" text-anchor="end" class="n">.01</text>
<text x="131.6" y="262.7" textLength="34.7" lengthAdjust="spacing" class="t">Brightest</text>
<text x="172.0" y="262.7" textLength="34.2" lengthAdjust="spacing" class="t">apparent</text>
<text x="211.2" y="262.7" textLength="40.3" lengthAdjust="spacing" class="t">magnitude</text>
<text transform="translate(7.5,194.3) rotate(-90)" textLength="37.1" lengthAdjust="spacing" class="t">Detection</text>
<text transform="translate(7.5,152.8) rotate(-90)" textLength="32.4" lengthAdjust="spacing" class="t">distance</text>
<text transform="translate(7.5,114.7) rotate(-90)" textLength="16.6" lengthAdjust="spacing" class="t">from</text>
<text transform="translate(7.5,93.0) rotate(-90)" textLength="19.4" lengthAdjust="spacing" class="t">Earth</text>
<text transform="translate(7.5,68.5) rotate(-90)" textLength="16.2" lengthAdjust="spacing" class="t">[AU]</text>
</svg>
</body></html>
